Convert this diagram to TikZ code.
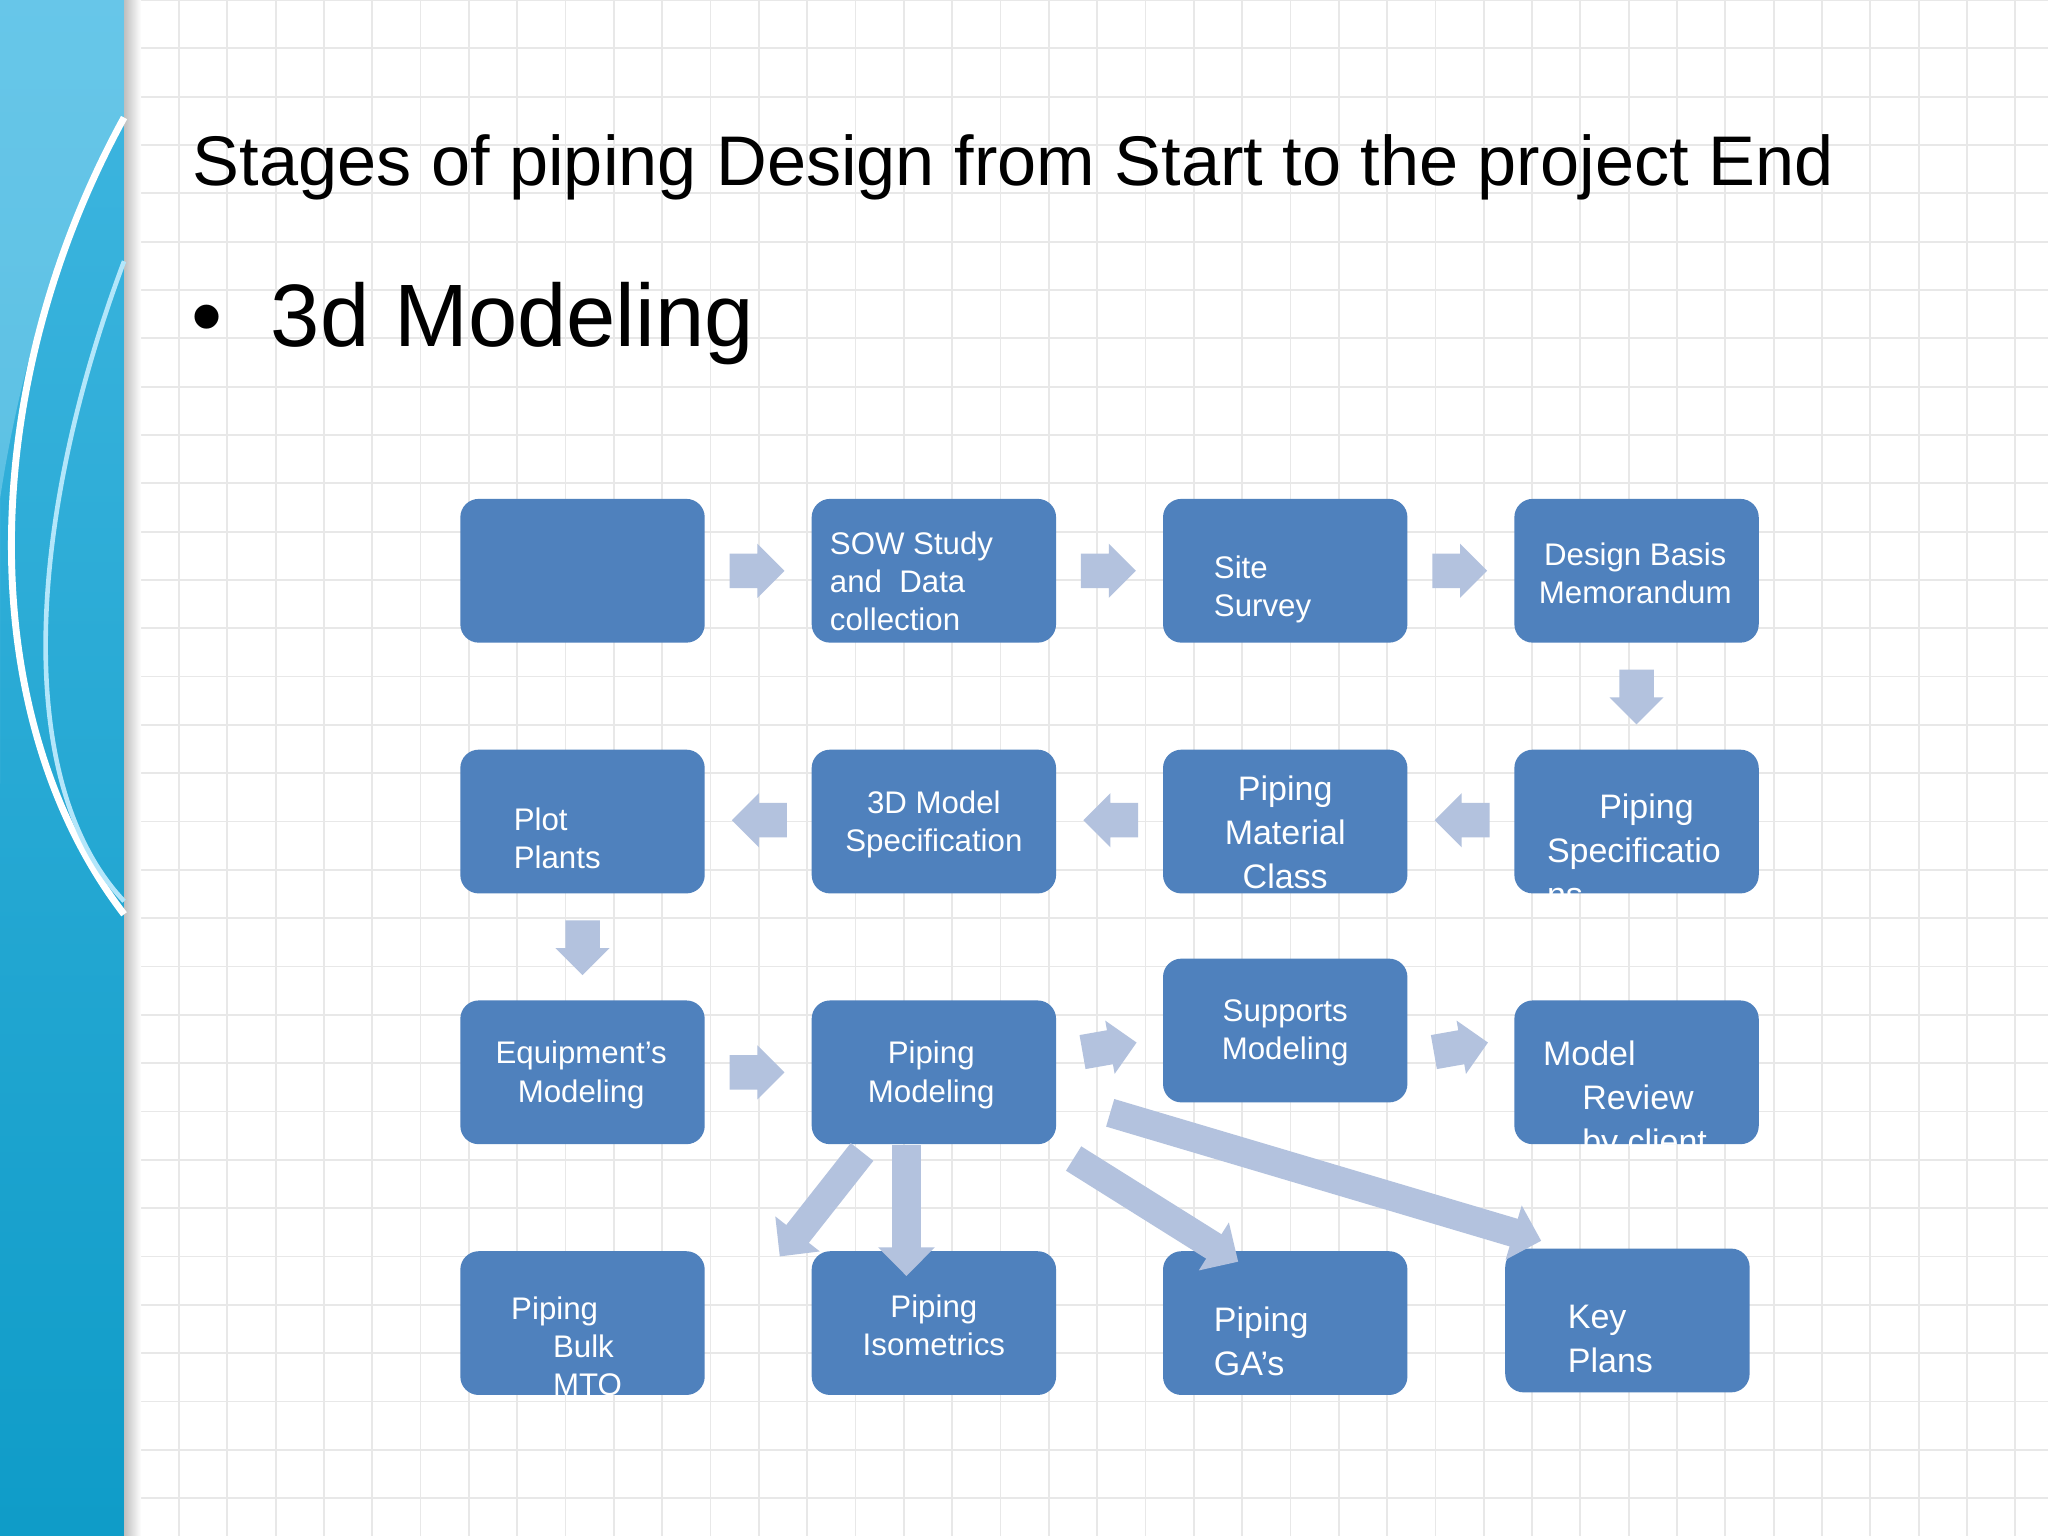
\documentclass[tikz,border=0pt]{standalone}
\usepackage{fontspec}
\setmainfont{Liberation Sans}
\usetikzlibrary{shapes.arrows,arrows.meta}
\definecolor{boxblue}{HTML}{4F81BD}
\definecolor{arrblue}{HTML}{B3C2DE}
\definecolor{bandA}{HTML}{3FB6E0}
\definecolor{bandB}{HTML}{0F9CC8}
\tikzset{
  stage/.style={fill=boxblue,rounded corners=4pt,minimum width=1.87cm,minimum height=1.10cm,inner sep=0pt},
  lbl/.style={text=white,font=\fontsize{6.8pt}{8.3pt}\selectfont,align=left,anchor=west},
  clbl/.style={text=white,font=\fontsize{6.8pt}{8.3pt}\selectfont,align=center},
  barr/.style={single arrow,fill=arrblue,minimum height=0.42cm,inner xsep=0pt,inner ysep=0.125cm,single arrow head extend=0.075cm,single arrow tip angle=90},
  thick arr/.style={line width=0.22cm,draw=arrblue,-{Triangle[width=0.42cm,length=0.22cm]}}
}
\begin{document}
\begin{tikzpicture}[x=0.01cm,y=-0.01cm]
\useasboundingbox (0,0) rectangle (1568,1176);
\fill[white] (0,0) rectangle (1568,1176);
\foreach \i in {0,...,42} {\draw[gray!18,line width=0.4pt] (100+\i*37,0) -- (100+\i*37,1176);}
\foreach \j in {0,...,32} {\draw[gray!18,line width=0.4pt] (100,\j*37) -- (1568,\j*37);}
% left band
\shade[top color=bandA,bottom color=bandB] (0,0) rectangle (95,1176);
\shade[left color=gray!50,right color=white] (95,0) rectangle (108,1176);
\fill[cyan!30!white,opacity=0.35] (0,0) -- (95,0) -- (95,90) .. controls (-20,300) and (-20,550) .. (0,600) -- cycle;
\draw[white,line width=1.5pt] (95,90) .. controls (-20,300) and (-20,550) .. (95,700);
\draw[white!70!cyan,line width=1pt] (95,200) .. controls (20,400) and (10,600) .. (95,690);
% titles
\node[anchor=west,font=\fontsize{15.3pt}{16pt}\selectfont,inner sep=0pt] (title) at (147,128) {Stages of piping Design from Start to the project End};
\node[anchor=west,font=\fontsize{19.3pt}{22pt}\selectfont,inner sep=0pt] (sub) at (146,248) {\textbullet\hspace{0.37cm}3d Modeling};
% boxes
\node[stage] (b1) at (446,437) {};
\node[stage] (b2) at (715,437) {};
\node[stage] (b3) at (984,437) {};
\node[stage] (b4) at (1253,437) {};
\node[stage] (b5) at (446,629) {};
\node[stage] (b6) at (715,629) {};
\node[stage] (b7) at (984,629) {};
\node[stage] (b8) at (1253,629) {};
\node[stage] (b9) at (446,821) {};
\node[stage] (b10) at (715,821) {};
\node[stage] (b11) at (984,789) {};
\node[stage] (b12) at (1253,821) {};
\node[stage] (b13) at (446,1013) {};
\node[stage] (b14) at (715,1013) {};
\node[stage] (b15) at (984,1013) {};
\node[stage] (b16) at (1246,1011) {};
% labels
\node[lbl] at (623,445) {SOW Study\\ and\ \ Data\\ collection};
\node[lbl] at (917,451) {Site\\Survey};
\node[clbl] at (1252,439) {Design Basis\\Memorandum};
\node[lbl] at (381,642) {Plot\\Plants};
\node[clbl] at (715,631) {3D Model\\Specification};
\begin{scope}
\clip[rounded corners=4pt] (b7.south west) rectangle (b7.north east);
\node[clbl,font=\fontsize{7.4pt}{9.6pt}\selectfont] at (984,637) {Piping\\Material\\Class};
\end{scope}
\begin{scope}
\clip[rounded corners=4pt] (b8.south west) rectangle (b8.north east);
\node[lbl,font=\fontsize{7.4pt}{9.6pt}\selectfont] at (1172,651) {\hspace*{0.4cm}Piping\\Specificatio\\ns};
\end{scope}
\node[clbl] at (445,823) {Equipment's\\Modeling};
\node[clbl] at (713,823) {Piping\\Modeling};
\node[clbl] at (984,791) {Supports\\Modeling};
\begin{scope}
\clip[rounded corners=4pt] (b12.south west) rectangle (b12.north east);
\node[lbl,font=\fontsize{7.4pt}{9.6pt}\selectfont] at (1169,843) {Model\\\hspace*{0.3cm}Review\\\hspace*{0.3cm}by client};
\end{scope}
\begin{scope}
\clip[rounded corners=4pt] (b13.south west) rectangle (b13.north east);
\node[lbl] at (379,1031) {Piping\\\hspace*{0.32cm}Bulk\\\hspace*{0.32cm}MTO};
\end{scope}
\node[clbl] at (715,1015) {Piping\\Isometrics};
\node[lbl,font=\fontsize{7.4pt}{9.6pt}\selectfont] at (917,1027) {Piping\\GA's};
\node[lbl,font=\fontsize{7.4pt}{9.6pt}\selectfont] at (1188,1025) {Key\\Plans};
% block arrows
\node[barr] (a1) at (573,437) {};
\node[barr] (a2) at (842,437) {};
\node[barr] (a3) at (1111,437) {};
\node[barr,rotate=-90] (a4) at (1253,527) {};
\node[barr,rotate=180] (a5) at (1126,628) {};
\node[barr,rotate=180] (a6) at (857,628) {};
\node[barr,rotate=180] (a7) at (588,628) {};
\node[barr,rotate=-90] (a8) at (446,719) {};
\node[barr] (a9) at (573,821) {};
\node[barr,rotate=10] (a10) at (843,803) {};
\node[barr,rotate=10] (a11) at (1112,803) {};
% thick arrows from piping modeling
\draw[thick arr] (660,882) -- (597,962);
\draw[thick arr] (694,877) -- (694,977);
\draw[thick arr] (822,887) -- (948,966);
\draw[thick arr] (850,852) -- (1180,950);
\end{tikzpicture}
\end{document}
